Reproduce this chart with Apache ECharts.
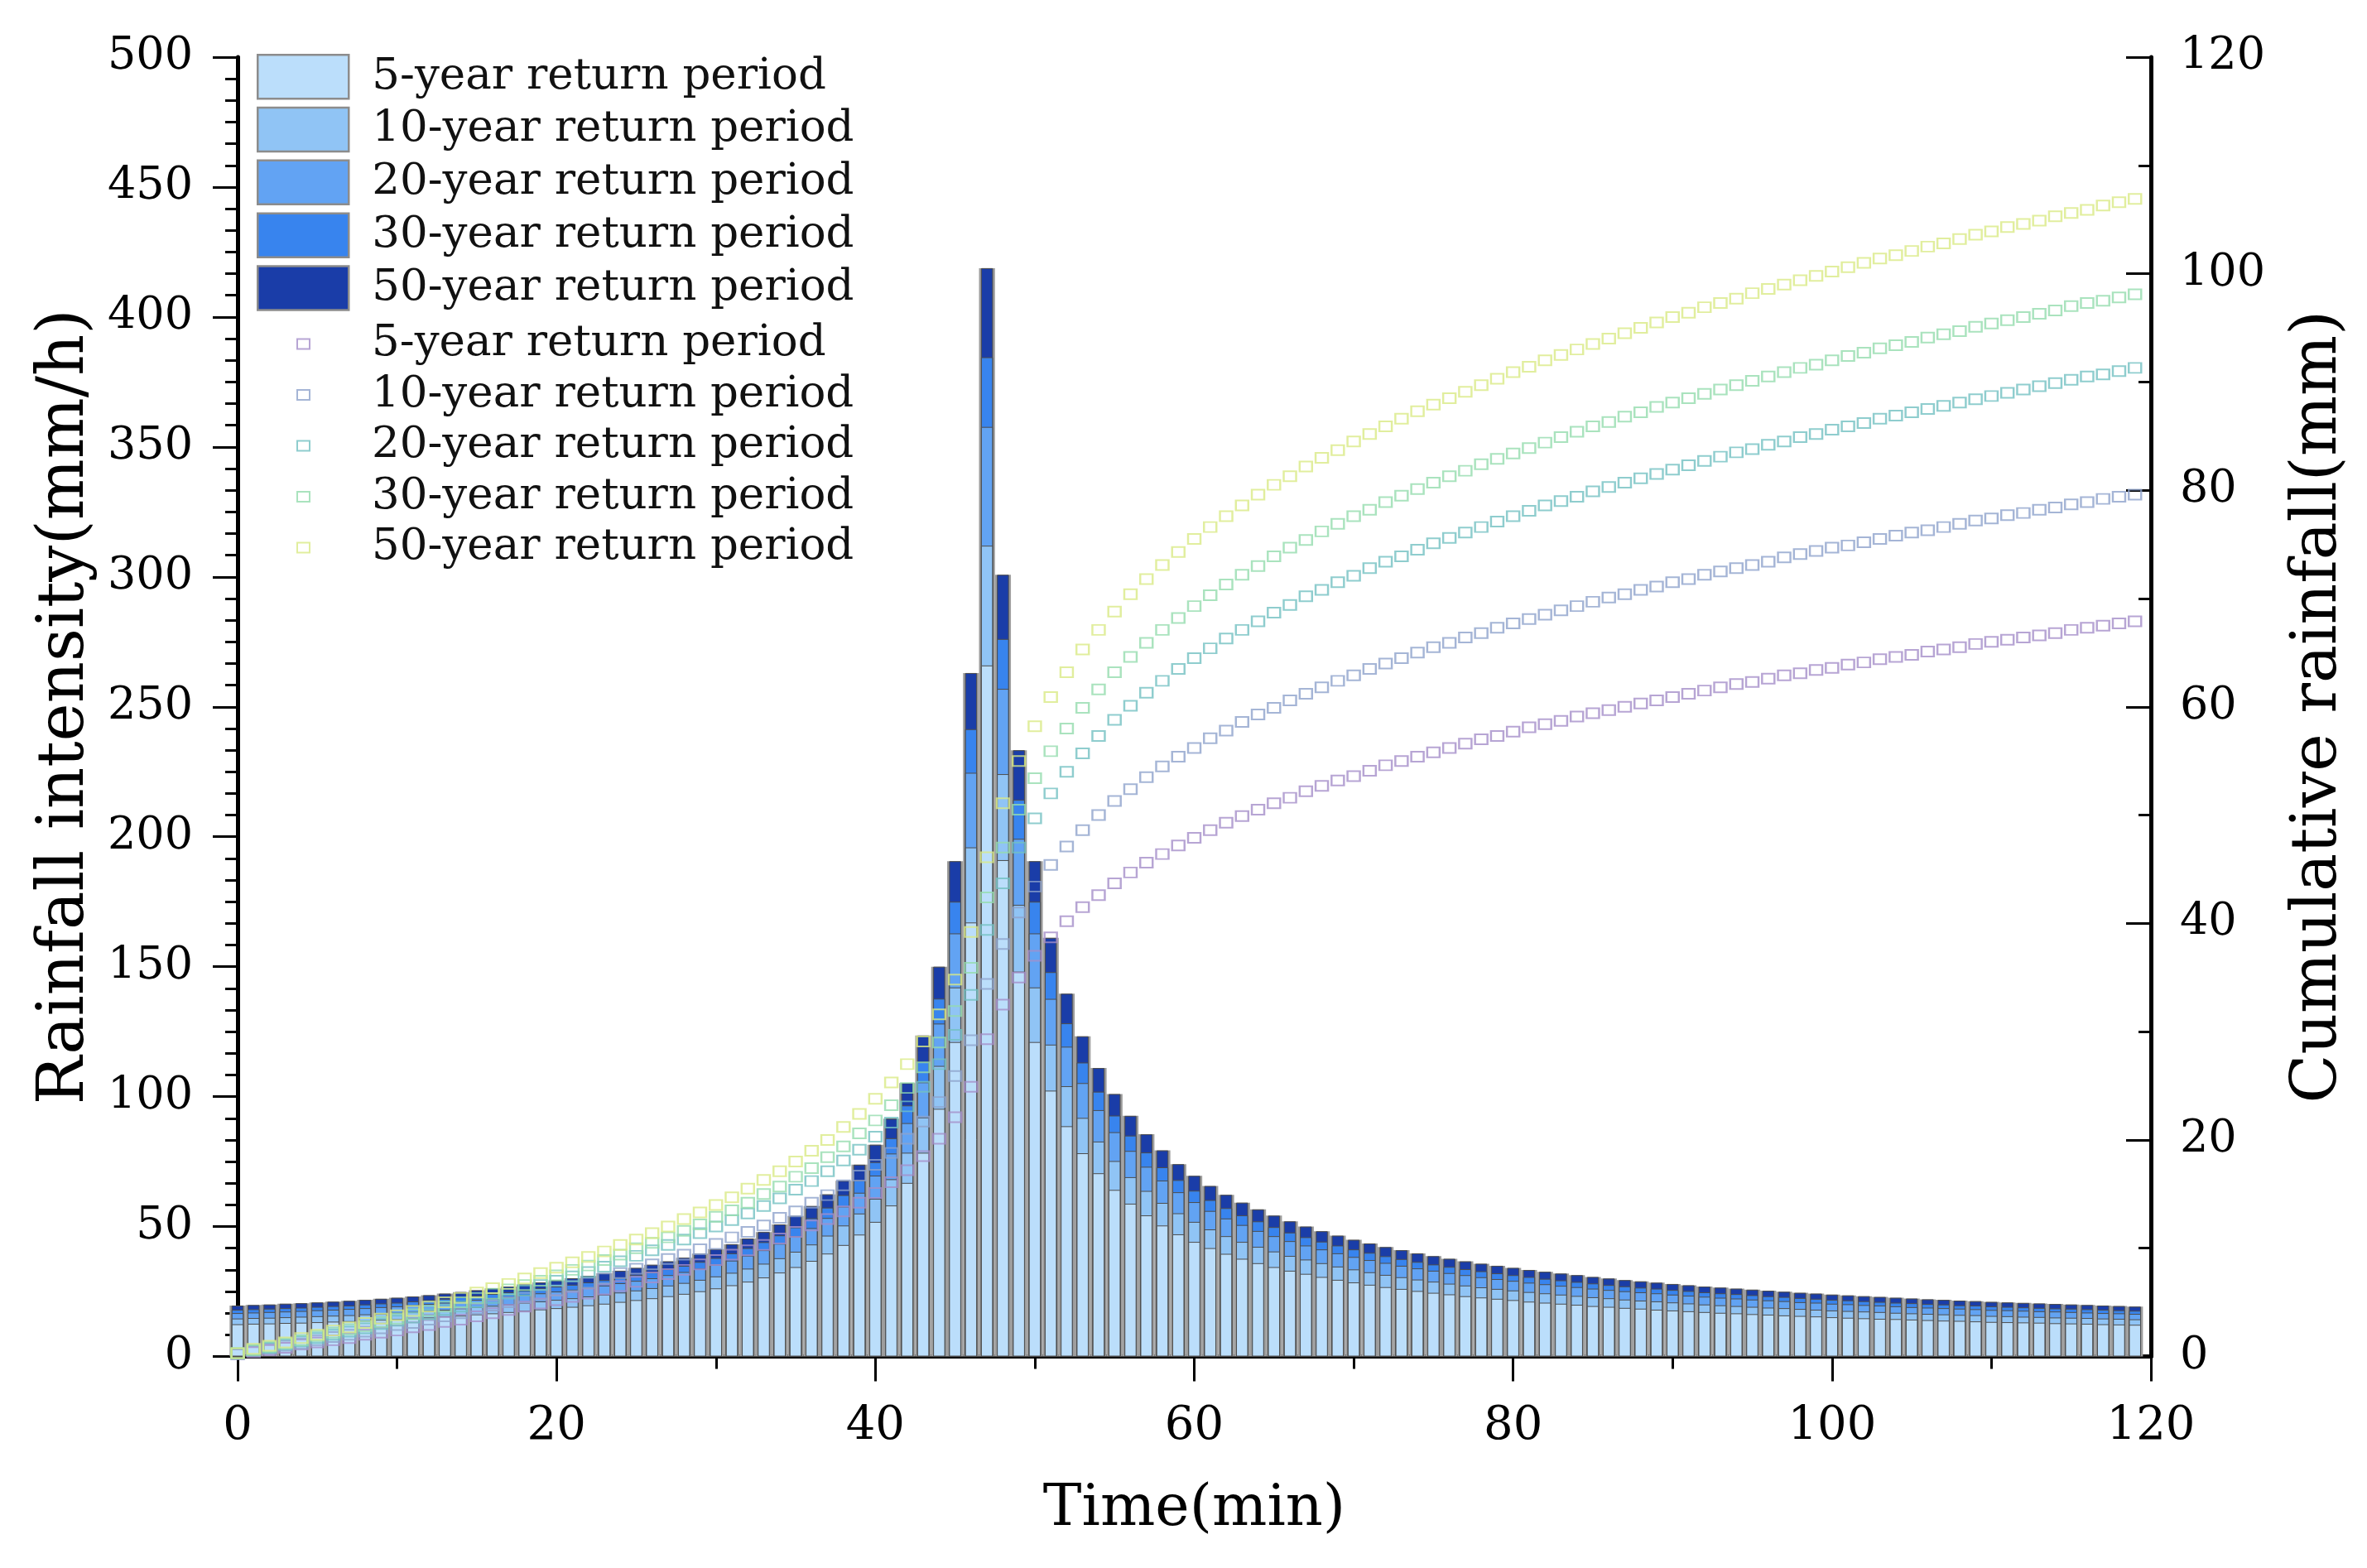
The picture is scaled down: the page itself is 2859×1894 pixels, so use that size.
<!DOCTYPE html>
<html><head><meta charset="utf-8">
<script src="https://cdn.jsdelivr.net/npm/echarts@6/dist/echarts.min.js"></script>
<style>html,body{margin:0;padding:0;background:#fff}#c{width:2859px;height:1894px}</style>
</head><body><div id="c"></div>
<script>
const minutes = [0,1,2,3,4,5,6,7,8,9,10,11,12,13,14,15,16,17,18,19,20,21,22,23,24,25,26,27,28,29,30,31,32,33,34,35,36,37,38,39,40,41,42,43,44,45,46,47,48,49,50,51,52,53,54,55,56,57,58,59,60,61,62,63,64,65,66,67,68,69,70,71,72,73,74,75,76,77,78,79,80,81,82,83,84,85,86,87,88,89,90,91,92,93,94,95,96,97,98,99,100,101,102,103,104,105,106,107,108,109,110,111,112,113,114,115,116,117,118,119];

const intensity50 = [19.6,19.8,20.0,20.3,20.5,20.8,21.1,21.4,21.8,22.2,22.6,23.1,23.6,24.2,24.8,25.5,26.2,26.9,27.7,28.5,29.3,30.1,31.0,32.0,33.0,34.1,35.3,36.6,38.0,39.6,41.3,43.2,45.4,47.9,50.8,54.1,57.9,62.4,67.6,73.8,81.5,91.5,105.2,123.5,150.0,190.6,263.0,418.8,300.8,233.3,190.6,161.1,139.6,123.2,111.0,101.0,92.6,85.5,79.3,74.0,69.5,65.6,62.2,59.2,56.6,54.2,52.0,50.0,48.2,46.5,44.9,43.5,42.1,40.9,39.7,38.6,37.6,36.6,35.7,34.9,34.1,33.3,32.6,31.9,31.3,30.6,30.0,29.4,28.9,28.4,27.9,27.4,26.9,26.5,26.1,25.7,25.3,24.9,24.5,24.2,23.8,23.5,23.2,22.9,22.6,22.3,22.0,21.8,21.5,21.3,21.0,20.8,20.6,20.4,20.2,20.0,19.8,19.6,19.4,19.2];
const intensity30 = [18.0,18.2,18.4,18.6,18.8,19.1,19.4,19.6,20.0,20.4,20.7,21.2,21.7,22.2,22.8,23.4,24.1,24.7,25.4,26.2,26.9,27.6,28.5,29.4,30.3,31.3,32.4,33.6,34.9,36.4,37.9,39.7,41.7,44.0,46.6,49.7,53.2,57.3,62.1,67.7,74.8,84.0,96.6,113.4,137.7,175.0,241.4,384.5,276.1,214.2,175.0,147.9,128.2,113.1,101.9,92.7,85.0,78.5,72.8,67.9,63.8,60.2,57.1,54.3,52.0,49.8,47.7,45.9,44.2,42.7,41.2,39.9,38.6,37.5,36.4,35.4,34.5,33.6,32.8,32.0,31.3,30.6,29.9,29.3,28.7,28.1,27.5,27.0,26.5,26.1,25.6,25.2,24.7,24.3,24.0,23.6,23.2,22.9,22.5,22.2,21.8,21.6,21.3,21.0,20.7,20.5,20.2,20.0,19.7,19.6,19.3,19.1,18.9,18.7,18.5,18.4,18.2,18.0,17.8,17.6];
const intensity20 = [16.7,16.9,17.1,17.3,17.5,17.8,18.0,18.3,18.6,19.0,19.3,19.7,20.2,20.7,21.2,21.8,22.4,23.0,23.7,24.3,25.0,25.7,26.5,27.3,28.2,29.1,30.1,31.3,32.5,33.8,35.3,36.9,38.8,40.9,43.4,46.2,49.4,53.3,57.7,63.0,69.6,78.1,89.8,105.5,128.1,162.8,224.6,357.7,256.9,199.2,162.8,137.6,119.2,105.2,94.8,86.3,79.1,73.0,67.7,63.2,59.4,56.0,53.1,50.6,48.3,46.3,44.4,42.7,41.2,39.7,38.3,37.1,36.0,34.9,33.9,33.0,32.1,31.3,30.5,29.8,29.1,28.4,27.8,27.2,26.7,26.1,25.6,25.1,24.7,24.3,23.8,23.4,23.0,22.6,22.3,21.9,21.6,21.3,20.9,20.7,20.3,20.1,19.8,19.6,19.3,19.0,18.8,18.6,18.4,18.2,17.9,17.8,17.6,17.4,17.3,17.1,16.9,16.7,16.6,16.4];
const intensity10 = [14.6,14.8,14.9,15.1,15.3,15.5,15.7,15.9,16.2,16.5,16.8,17.2,17.6,18.0,18.5,19.0,19.5,20.0,20.6,21.2,21.8,22.4,23.1,23.8,24.6,25.4,26.3,27.3,28.3,29.5,30.8,32.2,33.8,35.7,37.8,40.3,43.1,46.5,50.4,55.0,60.7,68.2,78.4,92.0,111.8,142.0,195.9,312.0,224.1,173.8,142.0,120.0,104.0,91.8,82.7,75.2,69.0,63.7,59.1,55.1,51.8,48.9,46.3,44.1,42.2,40.4,38.7,37.3,35.9,34.6,33.5,32.4,31.4,30.5,29.6,28.8,28.0,27.3,26.6,26.0,25.4,24.8,24.3,23.8,23.3,22.8,22.4,21.9,21.5,21.2,20.8,20.4,20.0,19.7,19.4,19.1,18.8,18.6,18.3,18.0,17.7,17.5,17.3,17.1,16.8,16.6,16.4,16.2,16.0,15.9,15.6,15.5,15.3,15.2,15.0,14.9,14.8,14.6,14.5,14.3];
const intensity5 = [12.4,12.6,12.7,12.9,13.0,13.2,13.4,13.6,13.8,14.1,14.4,14.7,15.0,15.4,15.7,16.2,16.6,17.1,17.6,18.1,18.6,19.1,19.7,20.3,21.0,21.7,22.4,23.2,24.1,25.1,26.2,27.4,28.8,30.4,32.3,34.4,36.8,39.6,42.9,46.9,51.8,58.1,66.8,78.4,95.3,121.0,167.0,265.9,191.0,148.1,121.0,102.3,88.6,78.2,70.5,64.1,58.8,54.3,50.4,47.0,44.1,41.7,39.5,37.6,35.9,34.4,33.0,31.8,30.6,29.5,28.5,27.6,26.7,26.0,25.2,24.5,23.9,23.2,22.7,22.2,21.7,21.1,20.7,20.3,19.9,19.4,19.1,18.7,18.4,18.0,17.7,17.4,17.1,16.8,16.6,16.3,16.1,15.8,15.6,15.4,15.1,14.9,14.7,14.5,14.4,14.2,14.0,13.8,13.7,13.5,13.3,13.2,13.1,13.0,12.8,12.7,12.6,12.4,12.3,12.2];

const cumulative50 = [0.3,0.7,1.0,1.3,1.7,2.0,2.4,2.7,3.1,3.5,3.8,4.2,4.6,5.0,5.4,5.9,6.3,6.7,7.2,7.7,8.2,8.7,9.2,9.7,10.3,10.8,11.4,12.0,12.7,13.3,14.0,14.7,15.5,16.3,17.1,18.0,19.0,20.0,21.2,22.4,23.8,25.3,27.0,29.1,31.6,34.8,39.2,46.1,51.1,55.0,58.2,60.9,63.2,65.3,67.1,68.8,70.4,71.8,73.1,74.3,75.5,76.6,77.6,78.6,79.6,80.5,81.3,82.2,83.0,83.7,84.5,85.2,85.9,86.6,87.3,87.9,88.5,89.1,89.7,90.3,90.9,91.4,92.0,92.5,93.0,93.5,94.0,94.5,95.0,95.5,96.0,96.4,96.9,97.3,97.7,98.2,98.6,99.0,99.4,99.8,100.2,100.6,101.0,101.4,101.7,102.1,102.5,102.8,103.2,103.6,103.9,104.3,104.6,104.9,105.3,105.6,105.9,106.3,106.6,106.9];
const cumulative30 = [0.3,0.6,0.9,1.2,1.5,1.9,2.2,2.5,2.8,3.2,3.5,3.9,4.2,4.6,5.0,5.4,5.8,6.2,6.6,7.0,7.5,8.0,8.4,8.9,9.4,10.0,10.5,11.0,11.6,12.2,12.9,13.5,14.2,15.0,15.7,16.6,17.4,18.4,19.4,20.6,21.8,23.2,24.8,26.7,29.0,31.9,35.9,42.4,47.0,50.5,53.4,55.9,58.0,59.9,61.6,63.2,64.6,65.9,67.1,68.2,69.3,70.3,71.3,72.2,73.0,73.9,74.7,75.4,76.2,76.9,77.6,78.2,78.9,79.5,80.1,80.7,81.3,81.8,82.4,82.9,83.4,83.9,84.4,84.9,85.4,85.9,86.3,86.8,87.2,87.7,88.1,88.5,88.9,89.3,89.7,90.1,90.5,90.9,91.3,91.6,92.0,92.4,92.7,93.1,93.4,93.7,94.1,94.4,94.7,95.1,95.4,95.7,96.0,96.3,96.6,97.0,97.3,97.5,97.8,98.1];
const cumulative20 = [0.3,0.6,0.8,1.1,1.4,1.7,2.0,2.3,2.6,3.0,3.3,3.6,3.9,4.3,4.6,5.0,5.4,5.8,6.1,6.6,7.0,7.4,7.8,8.3,8.8,9.3,9.8,10.3,10.8,11.4,12.0,12.6,13.2,13.9,14.6,15.4,16.2,17.1,18.1,19.1,20.3,21.6,23.1,24.9,27.0,29.7,33.4,39.4,43.7,47.0,49.7,52.0,54.0,55.7,57.3,58.8,60.1,61.3,62.4,63.5,64.5,65.4,66.3,67.1,67.9,68.7,69.4,70.2,70.8,71.5,72.1,72.8,73.4,73.9,74.5,75.1,75.6,76.1,76.6,77.1,77.6,78.1,78.6,79.0,79.4,79.9,80.3,80.7,81.1,81.5,81.9,82.3,82.7,83.1,83.5,83.8,84.2,84.5,84.9,85.2,85.6,85.9,86.2,86.6,86.9,87.2,87.5,87.8,88.1,88.4,88.7,89.0,89.3,89.6,89.9,90.2,90.5,90.7,91.0,91.3];
const cumulative10 = [0.2,0.5,0.7,1.0,1.2,1.5,1.8,2.0,2.3,2.6,2.9,3.1,3.4,3.7,4.0,4.4,4.7,5.0,5.4,5.7,6.1,6.5,6.8,7.2,7.7,8.1,8.5,9.0,9.4,9.9,10.4,11.0,11.5,12.1,12.8,13.4,14.2,14.9,15.8,16.7,17.7,18.8,20.1,21.7,23.5,25.9,29.2,34.4,38.1,41.0,43.4,45.4,47.1,48.6,50.0,51.3,52.4,53.5,54.5,55.4,56.2,57.1,57.8,58.6,59.3,59.9,60.6,61.2,61.8,62.4,62.9,63.5,64.0,64.5,65.0,65.5,65.9,66.4,66.8,67.3,67.7,68.1,68.5,68.9,69.3,69.7,70.1,70.4,70.8,71.1,71.5,71.8,72.2,72.5,72.8,73.1,73.4,73.8,74.1,74.4,74.7,74.9,75.2,75.5,75.8,76.1,76.3,76.6,76.9,77.2,77.4,77.7,77.9,78.2,78.4,78.7,78.9,79.2,79.4,79.6];
const cumulative5 = [0.2,0.4,0.6,0.8,1.1,1.3,1.5,1.7,2.0,2.2,2.4,2.7,2.9,3.2,3.4,3.7,4.0,4.3,4.6,4.9,5.2,5.5,5.8,6.2,6.5,6.9,7.3,7.6,8.0,8.5,8.9,9.4,9.8,10.3,10.9,11.5,12.1,12.7,13.4,14.2,15.1,16.1,17.2,18.5,20.1,22.1,24.9,29.3,32.5,35.0,37.0,38.7,40.2,41.5,42.6,43.7,44.7,45.6,46.4,47.2,47.9,48.6,49.3,49.9,50.5,51.1,51.6,52.2,52.7,53.2,53.6,54.1,54.6,55.0,55.4,55.8,56.2,56.6,57.0,57.3,57.7,58.1,58.4,58.7,59.1,59.4,59.7,60.0,60.3,60.6,60.9,61.2,61.5,61.8,62.1,62.3,62.6,62.9,63.1,63.4,63.6,63.9,64.1,64.4,64.6,64.8,65.1,65.3,65.5,65.8,66.0,66.2,66.4,66.6,66.8,67.1,67.3,67.5,67.7,67.9];

const periodNames = ['5-year return period','10-year return period','20-year return period','30-year return period','50-year return period'];
const barColors = ['#BBDEFB','#90C4F5','#62A3F3','#3884EE','#1A3DA8'];
const dotColors = ['#A58FC9','#8EA2CC','#73C0C2','#95DCAE','#D9EA86'];

const FONT = "'DejaVu Serif','Liberation Serif',serif";
const intensities = [intensity5,intensity10,intensity20,intensity30,intensity50];
const cumulatives = [cumulative5,cumulative10,cumulative20,cumulative30,cumulative50];
const pairs = arr => minutes.map((m,i)=>[m,arr[i]]);
const dotNames = periodNames.map(n => n + ' ');

const series = [];
// gray backing that forms the bar outlines/gaps
series.push({type:'bar', name:'outline', xAxisIndex:1, yAxisIndex:0, data:pairs(intensity50),
  barWidth:19.3, itemStyle:{color:'#9d9d9d'}, silent:true, z:1});
for (let p = 4; p >= 0; p--) {
  series.push({type:'bar', name:periodNames[p], xAxisIndex:0, yAxisIndex:0, data:pairs(intensities[p]),
    barWidth:14.5, barGap:'-100%', itemStyle:{color:barColors[p], borderColor:'#4d4d4d', borderWidth:1}, z:2});
}
for (let p = 0; p < 5; p++) {
  series.push({type:'scatter', name:dotNames[p], xAxisIndex:0, yAxisIndex:1, data:pairs(cumulatives[p]),
    symbol:'rect', symbolSize:[15,12],
    itemStyle:{color:'rgba(0,0,0,0)', borderColor:dotColors[p], borderWidth:2.2}, z:5});
}

const axisLineStyle = {color:'#000', width:5};
const tickStyle = {color:'#000', width:3};

const option = {
  animation:false,
  backgroundColor:'#ffffff',
  grid:{left:287, right:261, top:69, bottom:255.5, containLabel:false},
  legend:[
    {data:periodNames, orient:'vertical', left:310, top:65, padding:0, icon:'rect',
     itemWidth:110, itemHeight:53, itemGap:8.3, selectedMode:false,
     itemStyle:{borderColor:'#8c8c8c', borderWidth:2.5},
     textStyle:{fontFamily:FONT, fontSize:53, color:'#111', lineHeight:53, padding:[0,0,0,23]}},
    {data:dotNames, orient:'vertical', left:358, top:389, padding:0, icon:'rect',
     itemWidth:15, itemHeight:12, itemGap:8.5, selectedMode:false,
     textStyle:{fontFamily:FONT, fontSize:53, color:'#111', lineHeight:53, padding:[0,0,0,70]}}
  ],
  xAxis:[
    {type:'value', min:0, max:120, interval:20, gridIndex:0,
     axisLine:{show:true, onZero:false, lineStyle:axisLineStyle},
     axisTick:{show:true, length:30, lineStyle:tickStyle},
     minorTick:{show:true, splitNumber:2, length:15, lineStyle:tickStyle},
     splitLine:{show:false},
     axisLabel:{fontFamily:FONT, fontSize:56, color:'#000', margin:57},
     name:'Time(min)', nameLocation:'middle', nameGap:150,
     nameTextStyle:{fontFamily:FONT, fontSize:70, color:'#000'}},
    {type:'value', min:0, max:120, gridIndex:0, show:false}
  ],
  yAxis:[
    {type:'value', min:0, max:500, interval:50, position:'left',
     axisLine:{show:true, onZero:false, lineStyle:axisLineStyle},
     axisTick:{show:true, length:30, lineStyle:tickStyle},
     minorTick:{show:true, splitNumber:6, length:15, lineStyle:tickStyle},
     splitLine:{show:false},
     axisLabel:{fontFamily:FONT, fontSize:54, color:'#000', margin:54},
     name:'Rainfall intensity(mm/h)', nameLocation:'middle', nameGap:150, nameRotate:90,
     nameTextStyle:{fontFamily:FONT, fontSize:78, color:'#000'}},
    {type:'value', min:0, max:120, interval:20, position:'right',
     axisLine:{show:true, onZero:false, lineStyle:axisLineStyle},
     axisTick:{show:true, inside:true, length:30, lineStyle:tickStyle},
     minorTick:{show:true, splitNumber:2, length:15, lineStyle:tickStyle},
     splitLine:{show:false},
     axisLabel:{fontFamily:FONT, fontSize:54, color:'#000', margin:35},
     name:'Cumulative rainfall(mm)', nameLocation:'middle', nameGap:164, nameRotate:90,
     nameTextStyle:{fontFamily:FONT, fontSize:77, color:'#000'}}
  ],
  series:series
};
const chart = echarts.init(document.getElementById('c'), null, {renderer:'canvas', width:2859, height:1894});
chart.setOption(option);
</script>
</body></html>
